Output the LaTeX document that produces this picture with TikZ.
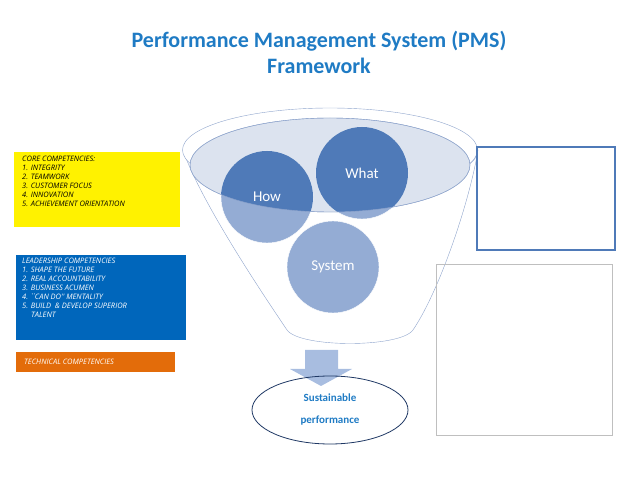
\documentclass[tikz,border=0pt]{standalone}
\usetikzlibrary{shapes.geometric}
\usepackage{fontspec}
\setmainfont{Carlito}
\newfontfamily\handf{Open Sans}
\begin{document}
\begin{tikzpicture}[x=1pt,y=-1pt,
  lst/.style={font=\handf\itshape\fontsize{7.5}{9}\selectfont, align=left, anchor=north west, inner sep=0pt},
  circ/.style={circle, minimum size=92pt, inner sep=0pt, font=\fontsize{15}{17}\selectfont, text=white}]
\definecolor{ttl}{HTML}{1F7BC4}
\definecolor{lb}{HTML}{94ACD4}
\definecolor{db}{HTML}{4F7AB8}
\definecolor{fl}{HTML}{8EA4CC}
\definecolor{inn}{RGB}{220,227,239}
\definecolor{arr}{RGB}{168,189,224}
\definecolor{navy}{RGB}{31,56,100}
\definecolor{bbox}{RGB}{0,102,187}
\definecolor{obox}{RGB}{227,108,10}
\useasboundingbox (0,0) rectangle (638,478);
\node[font=\bfseries\fontsize{22}{26}\selectfont, text=ttl, align=center] (title) at (319,52) {Performance Management System (PMS)\\Framework};
% funnel
\draw[fl, fill=white] (183,150) .. controls (200,200) and (260,290) .. (287,330) .. controls (300,348) and (400,348) .. (413,330) .. controls (440,290) and (470,200) .. (478,150) arc[start angle=0,end angle=180,x radius=147.5,y radius=42];
\draw[fl, fill=white] (330,150) ellipse[x radius=147.5, y radius=42];
\draw[fl, fill=inn] (330,165) ellipse[x radius=140, y radius=47];
\node[circ, fill=lb, draw=white] (how) at (267,197) {};
\node[circ, fill=lb, draw=white] (what) at (362,173) {};
\node[circ, fill=lb, draw=white] (sys) at (333,267) {System};
\begin{scope}
\clip (330,165) ellipse[x radius=140, y radius=47];
\fill[db] (how) circle[radius=46];
\fill[db] (what) circle[radius=46];
\end{scope}
\draw[fl] (330,165) ellipse[x radius=140, y radius=47];
\node[text=white, font=\fontsize{15}{17}\selectfont] at (how) {How};
\node[text=white, font=\fontsize{15}{17}\selectfont] at (what) {What};
% arrow
\fill[arr] (305,350) -- (338,350) -- (338,369) -- (352,369) -- (321,386) -- (290,369) -- (305,369) -- cycle;
\node[ellipse, draw=navy, thick, minimum width=156pt, minimum height=68pt, text=ttl, font=\bfseries\fontsize{11}{22}\selectfont, align=center] (sp) at (330,410) {Sustainable\\performance};
% left boxes
\fill[yellow] (14,152) rectangle (180,227);
\node[lst] (core) at (22,156) {CORE COMPETENCIES:\\1. INTEGRITY\\2. TEAMWORK\\3. CUSTOMER FOCUS\\4. INNOVATION\\5. ACHIEVEMENT ORIENTATION};
\fill[bbox] (16,255) rectangle (186,340);
\node[lst, text=white] (lead) at (22,258) {LEADERSHIP COMPETENCIES\\1. SHAPE THE FUTURE\\2. REAL ACCOUNTABILITY\\3. BUSINESS ACUMEN\\4. ``CAN DO'' MENTALITY\\5. BUILD \ \& DEVELOP SUPERIOR\\\hspace*{9pt}TALENT};
\fill[obox] (16,352) rectangle (175,372);
\node[lst, text=white, anchor=west] (tech) at (24,362) {TECHNICAL COMPETENCIES};
% right frames
\draw[db, line width=2pt] (477,147) rectangle (615,250);
\draw[gray!50] (436,264) rectangle (612,435);
\end{tikzpicture}
\end{document}
